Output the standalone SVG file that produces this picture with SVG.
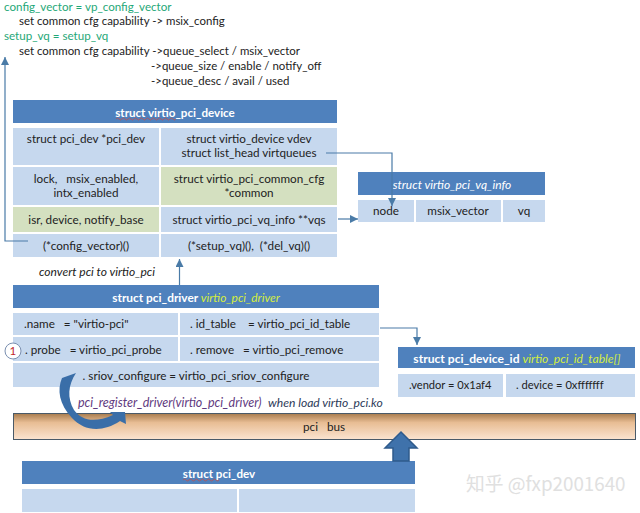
<svg xmlns="http://www.w3.org/2000/svg" width="640" height="513" viewBox="0 0 640 513">
<style>
text{font-family:"Lato","Liberation Sans",sans-serif;font-size:11.7px;fill:#222;white-space:pre}
.m{text-anchor:middle}
.n{font-size:11.45px}
.h{fill:#4f81bd}.c{fill:#c6d8ee}.g{fill:#d4e0c0}
.ht{fill:#fff;font-weight:700;text-anchor:middle;font-size:11.9px}
.i{font-style:italic;font-size:12px}
.gr{fill:#1fa878;font-size:11.6px}
.y{fill:#d6ee3c;font-style:italic;font-weight:400}
.ln{fill:none;stroke:#4a7ba7;stroke-width:1.2}
.sq{fill:none;stroke:#c0504d;stroke-width:.8}
</style>
<defs>
<marker id="a" markerWidth="10" markerHeight="10" refX="8" refY="4" orient="auto" markerUnits="userSpaceOnUse"><path d="M0 0L8 4L0 8z" fill="#4a7ba7"/></marker>
<linearGradient id="bus" x1="0" y1="0" x2="0" y2="1"><stop offset="0" stop-color="#a87c4e"/><stop offset=".35" stop-color="#e8bd94"/><stop offset="1" stop-color="#fbe4d0"/></linearGradient>
</defs>
<g id="notes">
<text class="gr" x="4" y="11">config_vector = vp_config_vector</text>
<text class="n" x="19" y="25">set common cfg capability -&gt; msix_config</text>
<text class="gr" x="4" y="40">setup_vq = setup_vq</text>
<text class="n" x="19" y="55">set common cfg capability -&gt;queue_select / msix_vector</text>
<text class="n" x="151" y="70">-&gt;queue_size / enable / notify_off</text>
<text class="n" x="151" y="85">-&gt;queue_desc / avail / used</text>
</g>
<g id="virtio_pci_device">
<rect class="h" x="13" y="100" width="324" height="23"/>
<text class="ht" x="175" y="117" style="font-size:11.6px">struct virtio_pci_device</text>
<path class="sq" d="M116 119q1.500-2 3 0t3 0t3 0t3 0t3 0t3 0t3 0t3 0t3 0t3 0t3 0t3 0t3 0t3 0t3 0t3 0t3 0t3 0t3 0t3 0"/>
<rect class="c" x="13" y="128" width="146" height="37"/>
<rect class="c" x="161" y="128" width="176" height="37"/>
<rect class="c" x="13" y="167" width="146" height="38"/>
<rect class="g" x="161" y="167" width="176" height="38"/>
<rect class="g" x="13" y="207" width="146" height="25"/>
<rect class="c" x="161" y="207" width="176" height="25"/>
<rect class="c" x="13" y="234" width="146" height="23"/>
<rect class="c" x="161" y="234" width="176" height="23"/>
<text class="m" x="86" y="143">struct pci_dev *pci_dev</text>
<text class="m" x="249" y="143">struct virtio_device vdev</text>
<text class="m" x="249" y="157">struct list_head virtqueues</text>
<text class="m" x="86" y="183">lock,   msix_enabled,</text>
<text class="m" x="86" y="197">intx_enabled</text>
<text class="m" x="249" y="183">struct virtio_pci_common_cfg</text>
<text class="m" x="249" y="197">*common</text>
<text class="m" x="86" y="224">isr, device, notify_base</text>
<text class="m" x="249" y="224">struct virtio_pci_vq_info **vqs</text>
<text class="m" x="86" y="250">(*config_vector)()</text>
<text class="m" x="249" y="250">(*setup_vq)(),  (*del_vq)()</text>
</g>
<g id="virtio_pci_vq_info">
<rect class="h" x="358" y="172" width="187" height="23"/>
<text class="ht i" x="452" y="189" style="font-weight:400">struct virtio_pci_vq_info</text>
<rect class="c" x="358" y="200" width="56" height="22"/>
<rect class="c" x="416" y="200" width="85" height="22"/>
<rect class="c" x="503" y="200" width="42" height="22"/>
<text class="m" x="386" y="215">node</text>
<text class="m" x="458" y="215">msix_vector</text>
<text class="m" x="524" y="215">vq</text>
</g>
<g id="pci_driver">
<rect class="h" x="13" y="285" width="366" height="23"/>
<text class="ht" x="196" y="302">struct pci_driver <tspan class="y">virtio_pci_driver</tspan></text>
<rect class="c" x="13" y="313" width="165" height="22"/>
<rect class="c" x="180" y="313" width="199" height="22"/>
<rect class="c" x="13" y="337" width="165" height="24"/>
<rect class="c" x="180" y="337" width="199" height="24"/>
<rect class="c" x="13" y="363" width="366" height="24"/>
<text x="24" y="328">.name   = "virtio-pci"</text>
<text x="190" y="328">. id_table    = virtio_pci_id_table</text>
<text x="25" y="354">. probe   = virtio_pci_probe</text>
<text x="190" y="354">. remove   = virtio_pci_remove</text>
<text class="m" x="196" y="380">. sriov_configure = virtio_pci_sriov_configure</text>
</g>
<g id="marker_1">
<circle cx="13" cy="351" r="8" fill="#fff" stroke="#7a8fb0" stroke-width="1"/>
<text class="m" x="13" y="355" style="fill:#c0282d">1</text>
</g>
<g id="pci_device_id">
<rect class="h" x="398" y="347" width="237" height="21"/>
<text class="ht" x="517" y="363" style="font-size:12.1px">struct pci_device_id <tspan class="y">virtio_pci_id_table[]</tspan></text>
<rect class="c" x="398" y="374" width="105" height="23"/>
<rect class="c" x="506" y="374" width="129" height="23"/>
<text x="409" y="389" style="font-size:11.1px">.vendor = 0x1af4</text>
<text x="516" y="389" style="font-size:11.2px">. device = 0xfffffff</text>
</g>
<g id="pci_bus">
<rect x="13.500" y="413.500" width="622" height="26" fill="url(#bus)" stroke="#4a5a68" stroke-width="1"/>
<text x="303" y="431">pci   bus</text>
</g>
<g id="pci_dev">
<rect class="h" x="22" y="461" width="393" height="23"/>
<text class="ht" x="219" y="478" style="font-size:11.6px">struct pci_dev</text>
<path class="sq" d="M183 480q1.500-2 3 0t3 0t3 0t3 0t3 0t3 0t3 0t3 0t3 0t3 0t3 0t3 0"/>
<rect class="c" x="22" y="489" width="215" height="23"/>
<rect class="c" x="239" y="489" width="176" height="23"/>
</g>
<g id="connectors">
<path class="ln" d="M28 241H5V57" marker-end="url(#a)"/>
<path class="ln" d="M179.500 285V259" marker-end="url(#a)"/>
<path class="ln" d="M326 153H392V206" marker-end="url(#a)"/>
<path class="ln" d="M338 219H358" marker-end="url(#a)"/>
<path class="ln" d="M380 328H417V345" marker-end="url(#a)"/>
<path d="M393 461V448H385L401 432L417 448H409V461Z" fill="#3f72ab" stroke="#2f5b8c" stroke-width="1.500"/>
<path d="M62 378L76 373C68 385 67 398 74 410C82 421 95 423 113 415L110 412L125 412L126 424L120 421C102 433 84 431 72 418C59 404 57 390 62 378Z" fill="#3a6ea8"/>
</g>
<g id="labels">
<text class="i" x="39" y="276">convert pci to virtio_pci</text>
<text class="i" x="78" y="407" style="fill:#5f3a80;font-size:12.5px">pci_register_driver(virtio_pci_driver)</text>
<text class="i" x="268" y="407" style="fill:#2c3a58;font-size:12.1px">when load virtio_pci.ko</text>
<text x="466" y="491" style="fill:#e0e0e0;font-family:'Noto Sans CJK SC','Noto Sans',sans-serif;font-size:18.800px">知乎 @fxp2001640</text>
</g>
</svg>
